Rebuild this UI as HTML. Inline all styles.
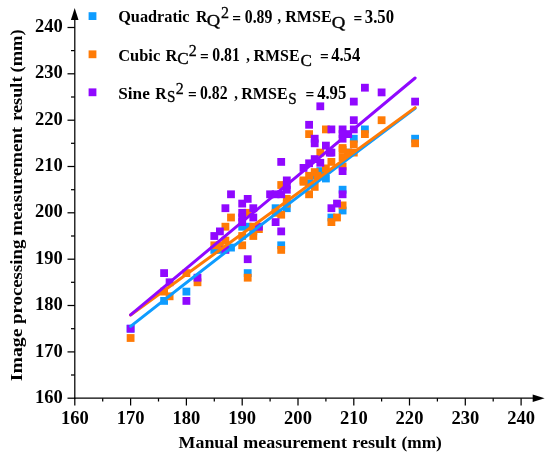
<!DOCTYPE html>
<html><head><meta charset="utf-8"><title>chart</title>
<style>
html,body{margin:0;padding:0;background:#fff;}
svg{display:block}
text{font-family:"Liberation Serif","DejaVu Serif",serif;font-weight:bold;fill:#000}
.t{font-size:19.3px}
.l{font-size:17.6px}
</style></head><body>
<svg width="550" height="458" viewBox="0 0 550 458">
<rect width="550" height="458" fill="#fff"/>
<g>
<rect x="126.7" y="324.8" width="7.8" height="7.8" fill="#0E9CFF"/>
<rect x="160.2" y="297.0" width="7.8" height="7.8" fill="#0E9CFF"/>
<rect x="182.5" y="287.7" width="7.8" height="7.8" fill="#0E9CFF"/>
<rect x="243.8" y="269.2" width="7.8" height="7.8" fill="#0E9CFF"/>
<rect x="210.4" y="246.0" width="7.8" height="7.8" fill="#0E9CFF"/>
<rect x="216.0" y="246.0" width="7.8" height="7.8" fill="#0E9CFF"/>
<rect x="227.1" y="243.7" width="7.8" height="7.8" fill="#0E9CFF"/>
<rect x="238.3" y="222.8" width="7.8" height="7.8" fill="#0E9CFF"/>
<rect x="243.8" y="222.8" width="7.8" height="7.8" fill="#0E9CFF"/>
<rect x="249.4" y="227.5" width="7.8" height="7.8" fill="#0E9CFF"/>
<rect x="271.7" y="204.3" width="7.8" height="7.8" fill="#0E9CFF"/>
<rect x="282.9" y="204.3" width="7.8" height="7.8" fill="#0E9CFF"/>
<rect x="277.3" y="241.4" width="7.8" height="7.8" fill="#0E9CFF"/>
<rect x="305.2" y="179.3" width="7.8" height="7.8" fill="#0E9CFF"/>
<rect x="322.0" y="174.6" width="7.8" height="7.8" fill="#0E9CFF"/>
<rect x="338.7" y="185.8" width="7.8" height="7.8" fill="#0E9CFF"/>
<rect x="349.9" y="134.8" width="7.8" height="7.8" fill="#0E9CFF"/>
<rect x="361.0" y="125.5" width="7.8" height="7.8" fill="#0E9CFF"/>
<rect x="411.2" y="134.8" width="7.8" height="7.8" fill="#0E9CFF"/>
<rect x="338.7" y="206.6" width="7.8" height="7.8" fill="#0E9CFF"/>
<rect x="327.5" y="213.6" width="7.8" height="7.8" fill="#0E9CFF"/>
<rect x="344.3" y="148.7" width="7.8" height="7.8" fill="#0E9CFF"/>
<rect x="310.8" y="171.9" width="7.8" height="7.8" fill="#0E9CFF"/>
<rect x="316.4" y="167.2" width="7.8" height="7.8" fill="#0E9CFF"/>
<rect x="126.7" y="334.1" width="7.8" height="7.8" fill="#FF7B06"/>
<rect x="160.2" y="287.7" width="7.8" height="7.8" fill="#FF7B06"/>
<rect x="165.7" y="292.4" width="7.8" height="7.8" fill="#FF7B06"/>
<rect x="182.5" y="269.2" width="7.8" height="7.8" fill="#FF7B06"/>
<rect x="193.6" y="278.4" width="7.8" height="7.8" fill="#FF7B06"/>
<rect x="243.8" y="273.8" width="7.8" height="7.8" fill="#FF7B06"/>
<rect x="227.1" y="213.6" width="7.8" height="7.8" fill="#FF7B06"/>
<rect x="221.5" y="222.8" width="7.8" height="7.8" fill="#FF7B06"/>
<rect x="243.8" y="208.9" width="7.8" height="7.8" fill="#FF7B06"/>
<rect x="249.4" y="222.8" width="7.8" height="7.8" fill="#FF7B06"/>
<rect x="255.0" y="225.2" width="7.8" height="7.8" fill="#FF7B06"/>
<rect x="238.3" y="232.1" width="7.8" height="7.8" fill="#FF7B06"/>
<rect x="249.4" y="232.1" width="7.8" height="7.8" fill="#FF7B06"/>
<rect x="238.3" y="241.4" width="7.8" height="7.8" fill="#FF7B06"/>
<rect x="216.0" y="241.4" width="7.8" height="7.8" fill="#FF7B06"/>
<rect x="210.4" y="241.4" width="7.8" height="7.8" fill="#FF7B06"/>
<rect x="221.5" y="236.7" width="7.8" height="7.8" fill="#FF7B06"/>
<rect x="277.3" y="181.1" width="7.8" height="7.8" fill="#FF7B06"/>
<rect x="299.6" y="176.5" width="7.8" height="7.8" fill="#FF7B06"/>
<rect x="282.9" y="195.0" width="7.8" height="7.8" fill="#FF7B06"/>
<rect x="282.9" y="199.7" width="7.8" height="7.8" fill="#FF7B06"/>
<rect x="277.3" y="210.8" width="7.8" height="7.8" fill="#FF7B06"/>
<rect x="277.3" y="246.0" width="7.8" height="7.8" fill="#FF7B06"/>
<rect x="271.7" y="208.9" width="7.8" height="7.8" fill="#FF7B06"/>
<rect x="305.2" y="190.4" width="7.8" height="7.8" fill="#FF7B06"/>
<rect x="310.8" y="183.0" width="7.8" height="7.8" fill="#FF7B06"/>
<rect x="305.2" y="171.9" width="7.8" height="7.8" fill="#FF7B06"/>
<rect x="313.6" y="171.9" width="7.8" height="7.8" fill="#FF7B06"/>
<rect x="305.2" y="130.2" width="7.8" height="7.8" fill="#FF7B06"/>
<rect x="322.0" y="125.5" width="7.8" height="7.8" fill="#FF7B06"/>
<rect x="316.4" y="148.7" width="7.8" height="7.8" fill="#FF7B06"/>
<rect x="327.5" y="158.0" width="7.8" height="7.8" fill="#FF7B06"/>
<rect x="322.0" y="164.5" width="7.8" height="7.8" fill="#FF7B06"/>
<rect x="310.8" y="168.2" width="7.8" height="7.8" fill="#FF7B06"/>
<rect x="299.6" y="177.9" width="7.8" height="7.8" fill="#FF7B06"/>
<rect x="338.7" y="144.1" width="7.8" height="7.8" fill="#FF7B06"/>
<rect x="338.7" y="153.3" width="7.8" height="7.8" fill="#FF7B06"/>
<rect x="344.3" y="148.7" width="7.8" height="7.8" fill="#FF7B06"/>
<rect x="338.7" y="162.6" width="7.8" height="7.8" fill="#FF7B06"/>
<rect x="349.9" y="140.4" width="7.8" height="7.8" fill="#FF7B06"/>
<rect x="349.9" y="148.7" width="7.8" height="7.8" fill="#FF7B06"/>
<rect x="377.7" y="116.3" width="7.8" height="7.8" fill="#FF7B06"/>
<rect x="361.0" y="130.2" width="7.8" height="7.8" fill="#FF7B06"/>
<rect x="411.2" y="139.4" width="7.8" height="7.8" fill="#FF7B06"/>
<rect x="338.7" y="145.9" width="7.8" height="7.8" fill="#FF7B06"/>
<rect x="338.7" y="201.5" width="7.8" height="7.8" fill="#FF7B06"/>
<rect x="333.1" y="213.6" width="7.8" height="7.8" fill="#FF7B06"/>
<rect x="327.5" y="218.2" width="7.8" height="7.8" fill="#FF7B06"/>
<rect x="126.7" y="324.8" width="7.8" height="7.8" fill="#9008FF"/>
<rect x="160.2" y="269.2" width="7.8" height="7.8" fill="#9008FF"/>
<rect x="165.7" y="278.4" width="7.8" height="7.8" fill="#9008FF"/>
<rect x="182.5" y="297.0" width="7.8" height="7.8" fill="#9008FF"/>
<rect x="193.6" y="273.8" width="7.8" height="7.8" fill="#9008FF"/>
<rect x="243.8" y="255.3" width="7.8" height="7.8" fill="#9008FF"/>
<rect x="227.1" y="190.4" width="7.8" height="7.8" fill="#9008FF"/>
<rect x="221.5" y="204.3" width="7.8" height="7.8" fill="#9008FF"/>
<rect x="243.8" y="195.0" width="7.8" height="7.8" fill="#9008FF"/>
<rect x="238.3" y="199.7" width="7.8" height="7.8" fill="#9008FF"/>
<rect x="249.4" y="204.3" width="7.8" height="7.8" fill="#9008FF"/>
<rect x="238.3" y="208.9" width="7.8" height="7.8" fill="#9008FF"/>
<rect x="238.3" y="218.2" width="7.8" height="7.8" fill="#9008FF"/>
<rect x="249.4" y="213.6" width="7.8" height="7.8" fill="#9008FF"/>
<rect x="255.0" y="222.8" width="7.8" height="7.8" fill="#9008FF"/>
<rect x="216.0" y="227.5" width="7.8" height="7.8" fill="#9008FF"/>
<rect x="210.4" y="232.1" width="7.8" height="7.8" fill="#9008FF"/>
<rect x="221.5" y="246.0" width="7.8" height="7.8" fill="#9008FF"/>
<rect x="277.3" y="227.5" width="7.8" height="7.8" fill="#9008FF"/>
<rect x="271.7" y="218.2" width="7.8" height="7.8" fill="#9008FF"/>
<rect x="266.2" y="190.4" width="7.8" height="7.8" fill="#9008FF"/>
<rect x="271.7" y="190.4" width="7.8" height="7.8" fill="#9008FF"/>
<rect x="277.3" y="190.4" width="7.8" height="7.8" fill="#9008FF"/>
<rect x="282.9" y="176.5" width="7.8" height="7.8" fill="#9008FF"/>
<rect x="282.9" y="181.1" width="7.8" height="7.8" fill="#9008FF"/>
<rect x="282.9" y="185.8" width="7.8" height="7.8" fill="#9008FF"/>
<rect x="310.8" y="134.8" width="7.8" height="7.8" fill="#9008FF"/>
<rect x="310.8" y="139.4" width="7.8" height="7.8" fill="#9008FF"/>
<rect x="316.4" y="102.4" width="7.8" height="7.8" fill="#9008FF"/>
<rect x="305.2" y="120.9" width="7.8" height="7.8" fill="#9008FF"/>
<rect x="277.3" y="158.0" width="7.8" height="7.8" fill="#9008FF"/>
<rect x="238.3" y="213.6" width="7.8" height="7.8" fill="#9008FF"/>
<rect x="322.0" y="141.7" width="7.8" height="7.8" fill="#9008FF"/>
<rect x="325.9" y="148.7" width="7.8" height="7.8" fill="#9008FF"/>
<rect x="310.8" y="155.2" width="7.8" height="7.8" fill="#9008FF"/>
<rect x="316.4" y="158.9" width="7.8" height="7.8" fill="#9008FF"/>
<rect x="305.2" y="159.4" width="7.8" height="7.8" fill="#9008FF"/>
<rect x="299.6" y="164.0" width="7.8" height="7.8" fill="#9008FF"/>
<rect x="338.7" y="167.2" width="7.8" height="7.8" fill="#9008FF"/>
<rect x="338.7" y="134.8" width="7.8" height="7.8" fill="#9008FF"/>
<rect x="344.3" y="130.2" width="7.8" height="7.8" fill="#9008FF"/>
<rect x="338.7" y="125.5" width="7.8" height="7.8" fill="#9008FF"/>
<rect x="338.7" y="130.2" width="7.8" height="7.8" fill="#9008FF"/>
<rect x="327.5" y="125.5" width="7.8" height="7.8" fill="#9008FF"/>
<rect x="327.5" y="148.7" width="7.8" height="7.8" fill="#9008FF"/>
<rect x="361.0" y="83.8" width="7.8" height="7.8" fill="#9008FF"/>
<rect x="377.7" y="88.5" width="7.8" height="7.8" fill="#9008FF"/>
<rect x="349.9" y="97.7" width="7.8" height="7.8" fill="#9008FF"/>
<rect x="411.2" y="97.7" width="7.8" height="7.8" fill="#9008FF"/>
<rect x="349.9" y="116.3" width="7.8" height="7.8" fill="#9008FF"/>
<rect x="349.9" y="125.5" width="7.8" height="7.8" fill="#9008FF"/>
<rect x="338.7" y="190.4" width="7.8" height="7.8" fill="#9008FF"/>
<rect x="333.1" y="199.7" width="7.8" height="7.8" fill="#9008FF"/>
<rect x="327.5" y="204.3" width="7.8" height="7.8" fill="#9008FF"/>
</g>
<path d="M130.59 326.37 Q272.85 214.35 415.12 108.34" fill="none" stroke="#0E9CFF" stroke-width="3" stroke-linecap="round"/>
<path d="M130.59 315.02 L415.12 107.65" fill="none" stroke="#FF7B06" stroke-width="3" stroke-linecap="round"/>
<path d="M130.59 314.79 L415.12 77.99" fill="none" stroke="#9008FF" stroke-width="3" stroke-linecap="round"/>
<g stroke="#000" stroke-width="1.25" fill="none">
<line x1="74.8" y1="398.9" x2="74.8" y2="18"/>
<line x1="74.1" y1="398.2" x2="535" y2="398.2"/>
<line x1="74.8" y1="398.2" x2="74.8" y2="405.5"/>
<line x1="74.8" y1="398.2" x2="67.5" y2="398.2"/>
<line x1="102.7" y1="398.2" x2="102.7" y2="401.5"/>
<line x1="74.8" y1="375.0" x2="71.0" y2="375.0"/>
<line x1="130.6" y1="398.2" x2="130.6" y2="405.5"/>
<line x1="74.8" y1="351.9" x2="67.5" y2="351.9"/>
<line x1="158.5" y1="398.2" x2="158.5" y2="401.5"/>
<line x1="74.8" y1="328.7" x2="71.0" y2="328.7"/>
<line x1="186.4" y1="398.2" x2="186.4" y2="405.5"/>
<line x1="74.8" y1="305.5" x2="67.5" y2="305.5"/>
<line x1="214.3" y1="398.2" x2="214.3" y2="401.5"/>
<line x1="74.8" y1="282.3" x2="71.0" y2="282.3"/>
<line x1="242.2" y1="398.2" x2="242.2" y2="405.5"/>
<line x1="74.8" y1="259.2" x2="67.5" y2="259.2"/>
<line x1="270.1" y1="398.2" x2="270.1" y2="401.5"/>
<line x1="74.8" y1="236.0" x2="71.0" y2="236.0"/>
<line x1="298.0" y1="398.2" x2="298.0" y2="405.5"/>
<line x1="74.8" y1="212.8" x2="67.5" y2="212.8"/>
<line x1="325.9" y1="398.2" x2="325.9" y2="401.5"/>
<line x1="74.8" y1="189.7" x2="71.0" y2="189.7"/>
<line x1="353.8" y1="398.2" x2="353.8" y2="405.5"/>
<line x1="74.8" y1="166.5" x2="67.5" y2="166.5"/>
<line x1="381.6" y1="398.2" x2="381.6" y2="401.5"/>
<line x1="74.8" y1="143.3" x2="71.0" y2="143.3"/>
<line x1="409.5" y1="398.2" x2="409.5" y2="405.5"/>
<line x1="74.8" y1="120.2" x2="67.5" y2="120.2"/>
<line x1="437.4" y1="398.2" x2="437.4" y2="401.5"/>
<line x1="74.8" y1="97.0" x2="71.0" y2="97.0"/>
<line x1="465.3" y1="398.2" x2="465.3" y2="405.5"/>
<line x1="74.8" y1="73.8" x2="67.5" y2="73.8"/>
<line x1="493.2" y1="398.2" x2="493.2" y2="401.5"/>
<line x1="74.8" y1="50.6" x2="71.0" y2="50.6"/>
<line x1="521.1" y1="398.2" x2="521.1" y2="405.5"/>
<line x1="74.8" y1="27.5" x2="67.5" y2="27.5"/>
</g>
<path d="M74.7 7.9 L78.5 19.9 L70.89999999999999 19.9 Z" fill="#000"/>
<path d="M544.6 398.2 L532.7 394.4 L532.7 402.0 Z" fill="#000"/>
<text class="t" x="60.9" y="424.3" textLength="27.8" lengthAdjust="spacingAndGlyphs">160</text>
<text class="t" x="34.9" y="402.8" textLength="27.8" lengthAdjust="spacingAndGlyphs">160</text>
<text class="t" x="116.7" y="424.3" textLength="27.8" lengthAdjust="spacingAndGlyphs">170</text>
<text class="t" x="34.9" y="356.5" textLength="27.8" lengthAdjust="spacingAndGlyphs">170</text>
<text class="t" x="172.5" y="424.3" textLength="27.8" lengthAdjust="spacingAndGlyphs">180</text>
<text class="t" x="34.9" y="310.1" textLength="27.8" lengthAdjust="spacingAndGlyphs">180</text>
<text class="t" x="228.3" y="424.3" textLength="27.8" lengthAdjust="spacingAndGlyphs">190</text>
<text class="t" x="34.9" y="263.8" textLength="27.8" lengthAdjust="spacingAndGlyphs">190</text>
<text class="t" x="284.1" y="424.3" textLength="27.8" lengthAdjust="spacingAndGlyphs">200</text>
<text class="t" x="34.9" y="217.4" textLength="27.8" lengthAdjust="spacingAndGlyphs">200</text>
<text class="t" x="339.9" y="424.3" textLength="27.8" lengthAdjust="spacingAndGlyphs">210</text>
<text class="t" x="34.9" y="171.1" textLength="27.8" lengthAdjust="spacingAndGlyphs">210</text>
<text class="t" x="395.6" y="424.3" textLength="27.8" lengthAdjust="spacingAndGlyphs">220</text>
<text class="t" x="34.9" y="124.8" textLength="27.8" lengthAdjust="spacingAndGlyphs">220</text>
<text class="t" x="451.4" y="424.3" textLength="27.8" lengthAdjust="spacingAndGlyphs">230</text>
<text class="t" x="34.9" y="78.4" textLength="27.8" lengthAdjust="spacingAndGlyphs">230</text>
<text class="t" x="507.2" y="424.3" textLength="27.8" lengthAdjust="spacingAndGlyphs">240</text>
<text class="t" x="34.9" y="32.1" textLength="27.8" lengthAdjust="spacingAndGlyphs">240</text>
<text class="l" y="448.4"><tspan x="178.6" textLength="59.6" lengthAdjust="spacingAndGlyphs">Manual</tspan> <tspan x="243.2" textLength="103.7" lengthAdjust="spacingAndGlyphs">measurement</tspan> <tspan x="352.2" textLength="44.0" lengthAdjust="spacingAndGlyphs">result</tspan> <tspan x="401.5" textLength="40.3" lengthAdjust="spacingAndGlyphs">(mm)</tspan></text>
<text class="l" transform="translate(22.1 380) rotate(-90)" y="0"><tspan x="-1.2" textLength="52.6" lengthAdjust="spacingAndGlyphs">Image</tspan> <tspan x="56" textLength="84.4" lengthAdjust="spacingAndGlyphs">processing</tspan> <tspan x="144.2" textLength="109" lengthAdjust="spacingAndGlyphs">measurement</tspan> <tspan x="259.2" textLength="44.3" lengthAdjust="spacingAndGlyphs">result</tspan> <tspan x="307.5" textLength="43.2" lengthAdjust="spacingAndGlyphs">(mm)</tspan></text>
<rect x="88.6" y="12.2" width="7.8" height="7.8" fill="#0E9CFF"/>
<text><tspan x="118.2" y="22.3" style="font-size:16.5px;font-weight:bold" textLength="71.4" lengthAdjust="spacingAndGlyphs">Quadratic</tspan> <tspan x="195.9" y="22.3" style="font-size:16.5px;font-weight:bold" textLength="11.3" lengthAdjust="spacingAndGlyphs">R</tspan> <tspan x="206.8" y="26.1" style="font-size:16.5px;font-weight:normal;stroke:#000;stroke-width:0.35px" textLength="13.4" lengthAdjust="spacingAndGlyphs">Q</tspan> <tspan x="221.0" y="17.8" style="font-size:16.2px;font-weight:normal;stroke:#000;stroke-width:0.3px" textLength="8" lengthAdjust="spacingAndGlyphs">2</tspan> <tspan x="232.3" y="24.1" style="font-size:16.5px;font-weight:bold" textLength="8.8" lengthAdjust="spacingAndGlyphs">=</tspan> <tspan x="244.8" y="22.8" style="font-size:18px;font-weight:bold" textLength="27.5" lengthAdjust="spacingAndGlyphs">0.89</tspan> <tspan x="277.6" y="22.3" style="font-size:16.5px;font-weight:bold" textLength="3.6" lengthAdjust="spacingAndGlyphs">,</tspan> <tspan x="285.3" y="22.3" style="font-size:16.5px;font-weight:bold" textLength="46.3" lengthAdjust="spacingAndGlyphs">RMSE</tspan> <tspan x="331.8" y="28.0" style="font-size:16.5px;font-weight:normal;stroke:#000;stroke-width:0.35px" textLength="13.6" lengthAdjust="spacingAndGlyphs">Q</tspan> <tspan x="353.6" y="24.1" style="font-size:16.5px;font-weight:bold" textLength="8.8" lengthAdjust="spacingAndGlyphs">=</tspan> <tspan x="364.8" y="22.8" style="font-size:18px;font-weight:bold" textLength="29.2" lengthAdjust="spacingAndGlyphs">3.50</tspan></text>
<rect x="88.6" y="50.4" width="7.8" height="7.8" fill="#FF7B06"/>
<text><tspan x="118.2" y="60.5" style="font-size:16.5px;font-weight:bold" textLength="42.0" lengthAdjust="spacingAndGlyphs">Cubic</tspan> <tspan x="165.5" y="60.5" style="font-size:16.5px;font-weight:bold" textLength="11.8" lengthAdjust="spacingAndGlyphs">R</tspan> <tspan x="177.2" y="64.3" style="font-size:16.5px;font-weight:normal;stroke:#000;stroke-width:0.35px" textLength="11.4" lengthAdjust="spacingAndGlyphs">C</tspan> <tspan x="188.7" y="56.0" style="font-size:16.2px;font-weight:normal;stroke:#000;stroke-width:0.3px" textLength="8" lengthAdjust="spacingAndGlyphs">2</tspan> <tspan x="200.0" y="62.3" style="font-size:16.5px;font-weight:bold" textLength="8.8" lengthAdjust="spacingAndGlyphs">=</tspan> <tspan x="212.3" y="61.0" style="font-size:18px;font-weight:bold" textLength="27.5" lengthAdjust="spacingAndGlyphs">0.81</tspan> <tspan x="246.2" y="60.5" style="font-size:16.5px;font-weight:bold" textLength="3.6" lengthAdjust="spacingAndGlyphs">,</tspan> <tspan x="253.5" y="60.5" style="font-size:16.5px;font-weight:bold" textLength="46.0" lengthAdjust="spacingAndGlyphs">RMSE</tspan> <tspan x="300.4" y="66.2" style="font-size:16.5px;font-weight:normal;stroke:#000;stroke-width:0.35px" textLength="11.4" lengthAdjust="spacingAndGlyphs">C</tspan> <tspan x="320.0" y="62.3" style="font-size:16.5px;font-weight:bold" textLength="8.8" lengthAdjust="spacingAndGlyphs">=</tspan> <tspan x="331.2" y="61.0" style="font-size:18px;font-weight:bold" textLength="29.0" lengthAdjust="spacingAndGlyphs">4.54</tspan></text>
<rect x="88.6" y="88.4" width="7.8" height="7.8" fill="#9008FF"/>
<text><tspan x="118.2" y="98.5" style="font-size:16.5px;font-weight:bold" textLength="31.6" lengthAdjust="spacingAndGlyphs">Sine</tspan> <tspan x="155.3" y="98.5" style="font-size:16.5px;font-weight:bold" textLength="11.3" lengthAdjust="spacingAndGlyphs">R</tspan> <tspan x="166.9" y="102.3" style="font-size:16.5px;font-weight:normal;stroke:#000;stroke-width:0.35px" textLength="8.4" lengthAdjust="spacingAndGlyphs">S</tspan> <tspan x="175.7" y="94.0" style="font-size:16.2px;font-weight:normal;stroke:#000;stroke-width:0.3px" textLength="8" lengthAdjust="spacingAndGlyphs">2</tspan> <tspan x="187.9" y="100.3" style="font-size:16.5px;font-weight:bold" textLength="8.8" lengthAdjust="spacingAndGlyphs">=</tspan> <tspan x="200.0" y="99.0" style="font-size:18px;font-weight:bold" textLength="27.5" lengthAdjust="spacingAndGlyphs">0.82</tspan> <tspan x="234.3" y="98.5" style="font-size:16.5px;font-weight:bold" textLength="3.6" lengthAdjust="spacingAndGlyphs">,</tspan> <tspan x="241.3" y="98.5" style="font-size:16.5px;font-weight:bold" textLength="46.3" lengthAdjust="spacingAndGlyphs">RMSE</tspan> <tspan x="288.2" y="104.2" style="font-size:16.5px;font-weight:normal;stroke:#000;stroke-width:0.35px" textLength="8.4" lengthAdjust="spacingAndGlyphs">S</tspan> <tspan x="305.5" y="100.3" style="font-size:16.5px;font-weight:bold" textLength="8.8" lengthAdjust="spacingAndGlyphs">=</tspan> <tspan x="317.2" y="99.0" style="font-size:18px;font-weight:bold" textLength="29.0" lengthAdjust="spacingAndGlyphs">4.95</tspan></text>
</svg></body></html>
